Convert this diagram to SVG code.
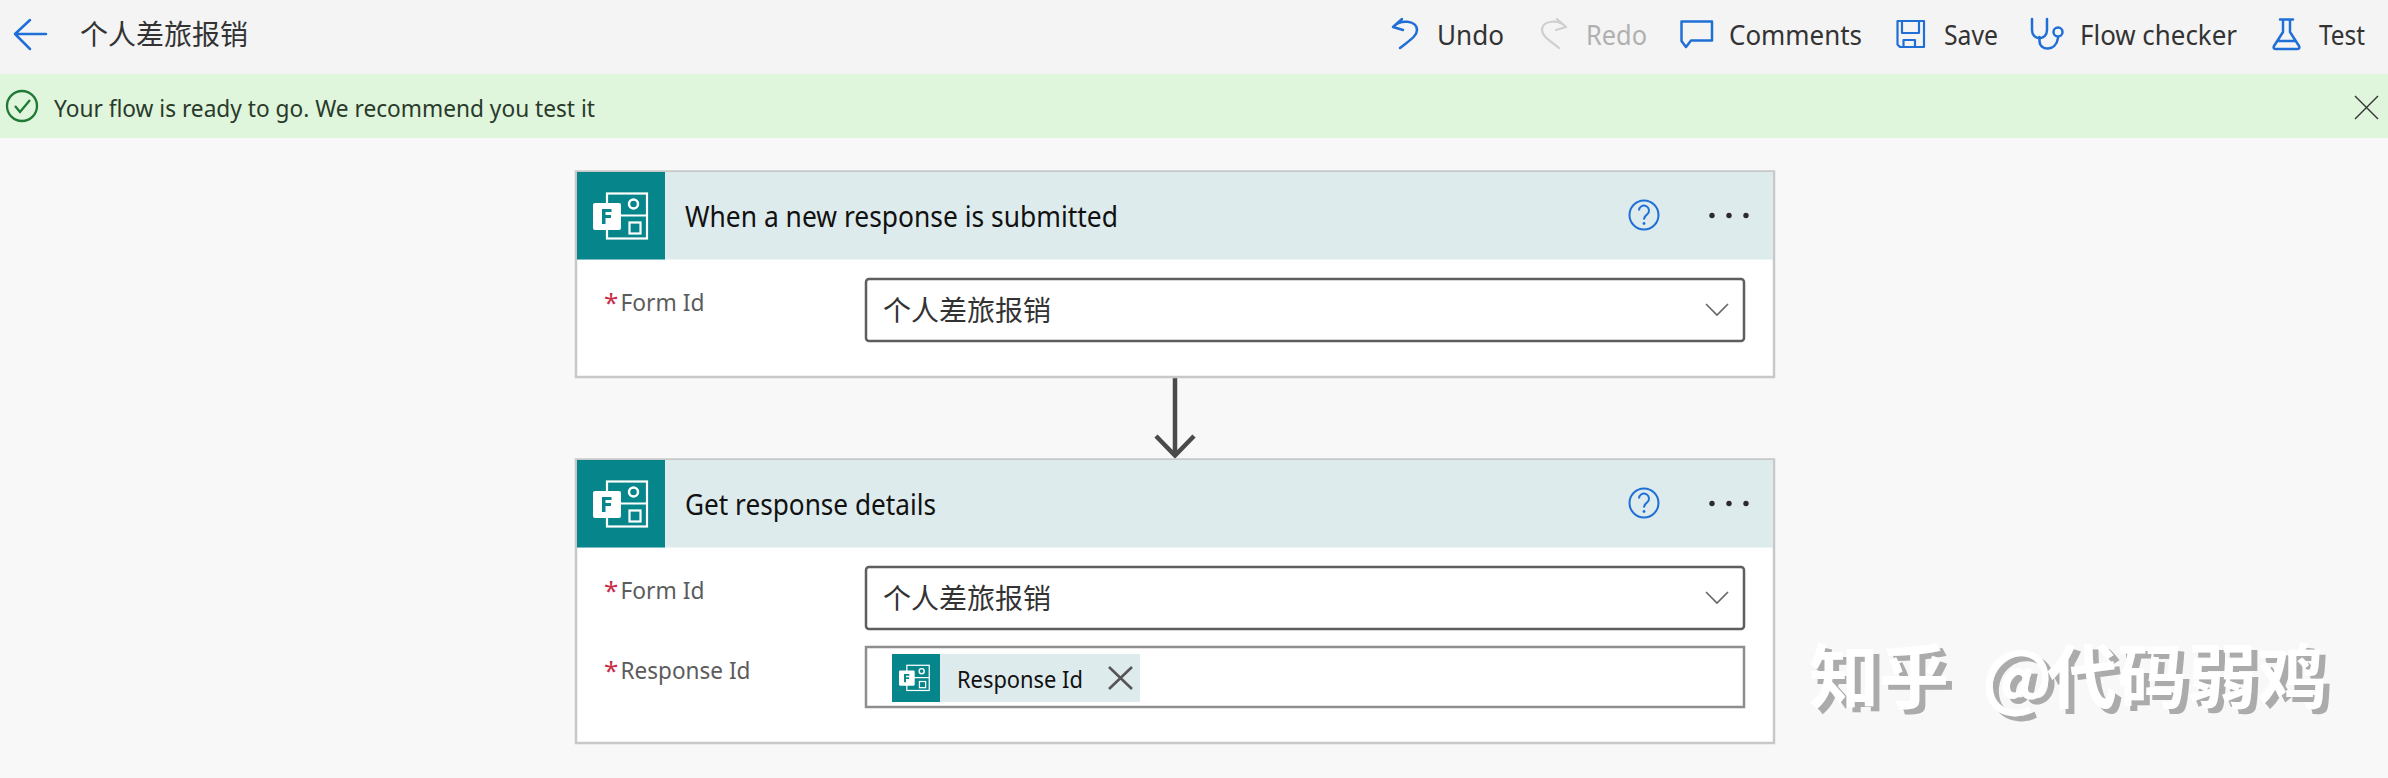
<svg xmlns="http://www.w3.org/2000/svg" xmlns:xlink="http://www.w3.org/1999/xlink" width="2388" height="778" viewBox="0 0 2388 778">
<style>
text{font-family:"Noto Sans","Open Sans","Noto Sans CJK SC",sans-serif}
.cjk{font-family:"Noto Sans CJK SC","Noto Sans",sans-serif;font-size:28px;fill:#333}
.tb{font-size:28px;fill:#333}
.lab{font-size:24px;fill:#5c5c5c}
.star{font-size:26px;fill:#c8304a}
.title{font-size:29px;fill:#111}
.ic{fill:none;stroke:#1f6fd6;stroke-width:2.500;stroke-linecap:round;stroke-linejoin:round}
.card{fill:#fff;stroke:#c8c8c8;stroke-width:2.500}
.head{fill:#deebed}
.teal{fill:#06868a}
.box{fill:#fff;stroke:#5e5e5e;stroke-width:2.500}
.dot{fill:#2b2b2b}
.chev{fill:none;stroke:#666;stroke-width:1.600}
.wm{font-family:"Noto Sans CJK SC",sans-serif;font-size:70px;font-weight:700;fill:#fff;filter:url(#wmshadow)}
</style>
<defs>
<filter id="wmshadow" x="-5%" y="-20%" width="110%" height="140%">
<feDropShadow dx="6" dy="5" stdDeviation="0" flood-color="#ababab"/>
</filter>
<g id="forms">
<rect x="607" y="481.500" width="40" height="45" fill="none" stroke="#fff" stroke-width="2.200"/>
<line x1="607" y1="503.500" x2="647" y2="503.500" stroke="#fff" stroke-width="2.200"/>
<circle cx="633.500" cy="492" r="4.500" fill="none" stroke="#fff" stroke-width="2.500"/>
<rect x="629.500" y="510.500" width="11" height="11" fill="none" stroke="#fff" stroke-width="2.200"/>
<rect x="593" y="491" width="28" height="27" rx="2" fill="#fff"/>
<path d="M602 497h9.500v3h-6v3h5.500v3h-5.500v6h-3.500z" fill="#06868a"/>
</g>
<g id="help">
<circle cx="0" cy="0" r="14.500" fill="none" stroke="#1f6fd6" stroke-width="2"/>
<path d="M-5 -4.500a5 5 0 1 1 8 4c-2 1.500-3 2.500-3 5" fill="none" stroke="#1f6fd6" stroke-width="2"/>
<circle cx="0" cy="8.500" r="1.400" fill="#1f6fd6"/>
</g>
<g id="dots"><circle cx="0" cy="0" r="2.700" class="dot"/><circle cx="17" cy="0" r="2.700" class="dot"/><circle cx="34" cy="0" r="2.700" class="dot"/></g>
<path id="chevron" d="M0 0l11 11l11 -11" class="chev"/>
</defs>
<rect width="2388" height="778" fill="#f8f8f8"/>
<g id="toolbar">
<rect width="2388" height="74" fill="#f4f4f4"/>
<path d="M46 34H15M30 20L15 34L30 49" class="ic"/>
<text x="80" y="45" class="cjk" textLength="168">个人差旅报销</text>
<path d="M1402 19L1393 27L1403 30M1393 27C1400 19 1417 20 1417 30C1417 36 1410 40 1400 48" class="ic"/>
<text x="1437" y="45" class="tb" textLength="67" lengthAdjust="spacingAndGlyphs">Undo</text>
<path d="M1557 19L1566 27L1556 30M1566 27C1559 19 1542 20 1542 30C1542 36 1549 40 1559 48" fill="none" stroke="#cfcfcf" stroke-width="2.200" stroke-linejoin="round" stroke-linecap="round"/>
<text x="1586" y="45" class="tb" style="fill:#b0b0b0" textLength="61" lengthAdjust="spacingAndGlyphs">Redo</text>
<path d="M1681.500 21.500H1712V40.500H1691L1686 47L1681.500 41Z" class="ic"/>
<text x="1729" y="45" class="tb" textLength="133" lengthAdjust="spacingAndGlyphs">Comments</text>
<path d="M1897.500 21H1924V47H1900L1897.500 44.500ZM1902 21V33H1919V21M1903.500 47V40H1915V47" class="ic" style="stroke-width:2.200"/>
<text x="1944" y="45" class="tb" textLength="54" lengthAdjust="spacingAndGlyphs">Save</text>
<path d="M2032 19V30C2032 41 2047 41 2047 30V19M2039.500 37V41C2039.500 51 2056 52 2058 38" class="ic"/>
<circle cx="2058" cy="32" r="4.500" class="ic"/>
<text x="2080" y="45" class="tb" textLength="157" lengthAdjust="spacingAndGlyphs">Flow checker</text>
<path d="M2280 19.500H2293M2283 19.500V32L2274 46C2273 48 2274 49 2276 49H2297C2299 49 2300 48 2299 46L2290 32V19.500M2279 41H2294" class="ic"/>
<text x="2319" y="45" class="tb" textLength="46" lengthAdjust="spacingAndGlyphs">Test</text>
</g>
<g id="banner">
<rect y="74" width="2388" height="64" fill="#dff5dc"/>
<circle cx="22" cy="106" r="15" fill="none" stroke="#1f7a35" stroke-width="2.300"/>
<path d="M15 106L20 112L30 100" fill="none" stroke="#1f7a35" stroke-width="2.300"/>
<text x="54" y="117" font-size="24" fill="#2a3a2a" textLength="541" lengthAdjust="spacingAndGlyphs">Your flow is ready to go. We recommend you test it</text>
<path d="M2355 96L2378 119M2378 96L2355 119" stroke="#333" stroke-width="1.400" fill="none"/>
</g>
<g id="connectors">
<path d="M1175 378V455M1156 436L1175 455.500L1194 436" fill="none" stroke="#4a4a4a" stroke-width="4.500"/>
</g>
<g id="node-trigger">
<rect x="576" y="171.500" width="1198" height="205.500" class="card"/>
<rect x="577" y="172" width="1196" height="87.500" class="head"/>
<rect x="577" y="172" width="88" height="87.500" class="teal"/>
<use xlink:href="#forms" href="#forms" y="-288"/>
<text x="685" y="227" class="title" textLength="433" lengthAdjust="spacingAndGlyphs">When a new response is submitted</text>
<use xlink:href="#help" href="#help" x="1644" y="215"/>
<use xlink:href="#dots" href="#dots" x="1712" y="215.500"/>
<text x="604" y="312" class="star">*</text>
<text x="620.500" y="311" class="lab" textLength="84" lengthAdjust="spacingAndGlyphs">Form Id</text>
<rect x="866" y="279" width="878" height="62" rx="3" class="box"/>
<text x="883" y="321" class="cjk" textLength="168">个人差旅报销</text>
<use xlink:href="#chevron" href="#chevron" x="1706" y="304"/>
</g>
<g id="node-details">
<rect x="576" y="459.500" width="1198" height="283.500" class="card"/>
<rect x="577" y="460" width="1196" height="87.500" class="head"/>
<rect x="577" y="460" width="88" height="87.500" class="teal"/>
<use xlink:href="#forms" href="#forms"/>
<text x="685" y="515" class="title" textLength="251" lengthAdjust="spacingAndGlyphs">Get response details</text>
<use xlink:href="#help" href="#help" x="1644" y="503"/>
<use xlink:href="#dots" href="#dots" x="1712" y="503.500"/>
<text x="604" y="600" class="star">*</text>
<text x="620.500" y="599" class="lab" textLength="84" lengthAdjust="spacingAndGlyphs">Form Id</text>
<rect x="866" y="567" width="878" height="62" rx="3" class="box"/>
<text x="883" y="609" class="cjk" textLength="168">个人差旅报销</text>
<use xlink:href="#chevron" href="#chevron" x="1706" y="592"/>
<text x="604" y="680" class="star">*</text>
<text x="620.500" y="679" class="lab" textLength="130" lengthAdjust="spacingAndGlyphs">Response Id</text>
<rect x="866" y="647" width="878" height="60" fill="#fff" stroke="#8e8e8e" stroke-width="2.500"/>
<rect x="892" y="654" width="248" height="48" class="head"/>
<rect x="892" y="654" width="48" height="48" class="teal"/>
<g transform="translate(899 665) scale(.56) translate(-593 -481)"><use xlink:href="#forms" href="#forms"/></g>
<text x="957" y="688" font-size="24" fill="#111" textLength="126" lengthAdjust="spacingAndGlyphs">Response Id</text>
<path d="M1109 667L1132 689M1132 667L1109 689" stroke="#555" stroke-width="2.600" fill="none"/>
</g>
<g id="watermark">
<text y="703" class="wm"><tspan x="1809">知乎</tspan><tspan x="1982">@</tspan><tspan x="2047">代码弱鸡</tspan></text>
</g>
</svg>
